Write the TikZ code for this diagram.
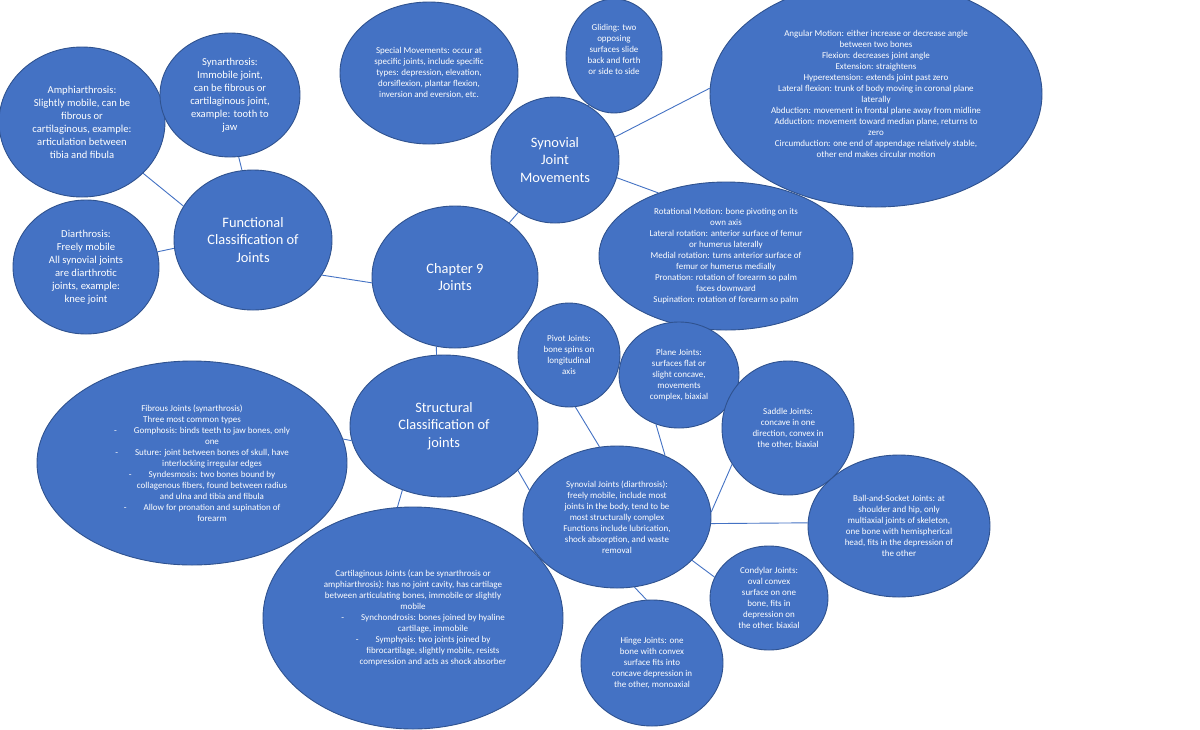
\documentclass[tikz,border=0pt]{standalone}
\usepackage{fontspec}
\setmainfont{Carlito}
\usepackage{tikz}
\usetikzlibrary{shapes.geometric}

\definecolor{bubblefill}{HTML}{4472C4}
\definecolor{bubbleedge}{HTML}{2F528F}
\definecolor{linkblue}{HTML}{4472C4}

\newcommand{\dashitem}[1]{\hspace*{40pt}\llap{-\hspace{17pt}}#1}
\newcommand{\dashcont}[1]{\hspace*{40pt}#1}

\begin{document}
\begin{tikzpicture}[x=1pt,y=-1pt,
  bubble/.style={ellipse,draw=bubbleedge,fill=bubblefill,text=white,align=center,inner sep=0pt,line width=0.9pt},
  big/.style={font=\fontsize{14.4}{17.6}\selectfont},
  mid/.style={font=\fontsize{10.6}{13}\selectfont},
  small/.style={font=\fontsize{9}{11}\selectfont},
  link/.style={draw=linkblue,line width=0.9pt}]

\fill[white] (0,0) rectangle (1200,729);
\useasboundingbox (0,0) rectangle (1200,729);

% Functional side
\node[bubble,mid,minimum width=166,minimum height=150] (amphi) at (82,122)
  {Amphiarthrosis:\\Slightly mobile, can be\\fibrous or\\cartilaginous, example:\\articulation between\\tibia and fibula};
\node[bubble,mid,minimum width=140,minimum height=124] (synarth) at (230,95)
  {Synarthrosis:\\Immobile joint,\\can be fibrous or\\cartilaginous joint,\\example: tooth to\\jaw};
\node[bubble,mid,minimum width=146,minimum height=134] (diarth) at (86,267)
  {Diarthrosis:\\Freely mobile\\All synovial joints\\are diarthrotic\\joints, example:\\knee joint};
\node[bubble,big,minimum width=158,minimum height=140] (functional) at (253,240)
  {Functional\\Classification of\\Joints};

% Centre
\node[bubble,big,minimum width=166,minimum height=142] (chapter) at (455,277) {Chapter 9\\Joints};

% Movements
\node[bubble,small,minimum width=178,minimum height=142] (special) at (429,73)
  {Special Movements: occur at\\specific joints, include specific\\types: depression, elevation,\\dorsiflexion, plantar flexion,\\inversion and eversion, etc.};
\node[bubble,minimum width=96,minimum height=114] (gliding) at (614,56) {};
\node[small,text=white,align=center] (glidingtext) at (614,49)
  {Gliding: two\\opposing\\surfaces slide\\back and forth\\or side to side};
\node[bubble,big,minimum width=128,minimum height=126] (sjm) at (555,160) {Synovial\\Joint\\Movements};
\node[bubble,small,minimum width=254,minimum height=148] (rotational) at (726,256)
  {Rotational Motion: bone pivoting on its\\own axis\\Lateral rotation: anterior surface of femur\\or humerus laterally\\Medial rotation: turns anterior surface of\\femur or humerus medially\\Pronation: rotation of forearm so palm\\faces downward\\Supination: rotation of forearm so palm};
\node[bubble,small,minimum width=332,minimum height=226] (angular) at (876,94)
  {Angular Motion: either increase or decrease angle\\between two bones\\Flexion: decreases joint angle\\Extension: straightens\\Hyperextension: extends joint past zero\\Lateral flexion: trunk of body moving in coronal plane\\laterally\\Abduction: movement in frontal plane away from midline\\Adduction: movement toward median plane, returns to\\zero\\Circumduction: one end of appendage relatively stable,\\other end makes circular motion};

% Structural side
\node[bubble,small,minimum width=310,minimum height=204] (fibrous) at (192,463)
  {Fibrous Joints (synarthrosis)\\Three most common types\\
   \dashitem{Gomphosis: binds teeth to jaw bones, only}\\\dashcont{one}\\
   \dashitem{Suture: joint between bones of skull, have}\\\dashcont{interlocking irregular edges}\\
   \dashitem{Syndesmosis: two bones bound by}\\\dashcont{collagenous fibers, found between radius}\\\dashcont{and ulna and tibia and fibula}\\
   \dashitem{Allow for pronation and supination of}\\\dashcont{forearm}};
\node[bubble,small,minimum width=300,minimum height=222] (cartilag) at (413,618)
  {Cartilaginous Joints (can be synarthrosis or\\amphiarthrosis): has no joint cavity, has cartilage\\between articulating bones, immobile or slightly\\mobile\\
   \dashitem{Synchondrosis: bones joined by hyaline}\\\dashcont{cartilage, immobile}\\
   \dashitem{Symphysis: two joints joined by}\\\dashcont{fibrocartilage, slightly mobile, resists}\\\dashcont{compression and acts as shock absorber}};
\node[bubble,big,minimum width=188,minimum height=142] (structural) at (444,426)
  {Structural\\Classification of\\joints};

% Synovial joint types
\node[bubble,small,minimum width=188,minimum height=142] (synovial) at (617,517)
  {Synovial Joints (diarthrosis):\\freely mobile, include most\\joints in the body, tend to be\\most structurally complex\\Functions include lubrication,\\shock absorption, and waste\\removal};
\node[bubble,small,minimum width=102,minimum height=104] (pivot) at (569,355)
  {Pivot Joints:\\bone spins on\\longitudinal\\axis};
\node[bubble,small,minimum width=120,minimum height=106] (plane) at (679,375)
  {Plane Joints:\\surfaces flat or\\slight concave,\\movements\\complex, biaxial};
\node[bubble,small,minimum width=182,minimum height=142] (ball) at (899,526)
  {Ball-and-Socket Joints: at\\shoulder and hip, only\\multiaxial joints of skeleton,\\one bone with hemispherical\\head, fits in the depression of\\the other};
\node[bubble,small,minimum width=132,minimum height=134] (saddle) at (788,428)
  {Saddle Joints:\\concave in one\\direction, convex in\\the other, biaxial};
\node[bubble,small,minimum width=142,minimum height=126] (hinge) at (652,663)
  {Hinge Joints: one\\bone with convex\\surface fits into\\concave depression in\\the other, monoaxial};
\node[bubble,minimum width=118,minimum height=104] (condylar) at (769,598) {};
\begin{scope}
  \clip (700,540) rectangle (840,627);
  \node[small,text=white,align=center] (condylartext) at (769,598.5)
    {Condylar Joints:\\oval convex\\surface on one\\bone, fits in\\depression on\\the other, biaxial};
\end{scope}

% connectors
\draw[link] (amphi.-40) -- (functional.154);
\draw[link] (synarth.278) -- (functional.99);
\draw[link] (diarth.12) -- (functional.186);
\draw[link] (functional.333) -- (chapter.184);
\draw[link] (chapter.45) -- (sjm.235);
\draw[link] (chapter.255) -- (structural.96);
\draw[link] (gliding.242) -- (sjm.58);
\draw[link] (sjm.21) -- (angular.178);
\draw[link] (sjm.-16) -- (rotational.137);
\draw[link] (structural.189) -- (fibrous.9);
\draw[link] (structural.237) -- (cartilag.98);
\draw[link] (structural.329) -- (synovial.163);
\draw[link] (pivot.277) -- (synovial.104);
\draw[link] (plane.245) -- (synovial.52);
\draw[link] (saddle.213) -- (synovial.3);
\draw[link] (synovial.-4) -- (ball.178);
\draw[link] (synovial.-30) -- (condylar.159);
\draw[link] (synovial.284) -- (hinge.95);

\end{tikzpicture}
\end{document}
